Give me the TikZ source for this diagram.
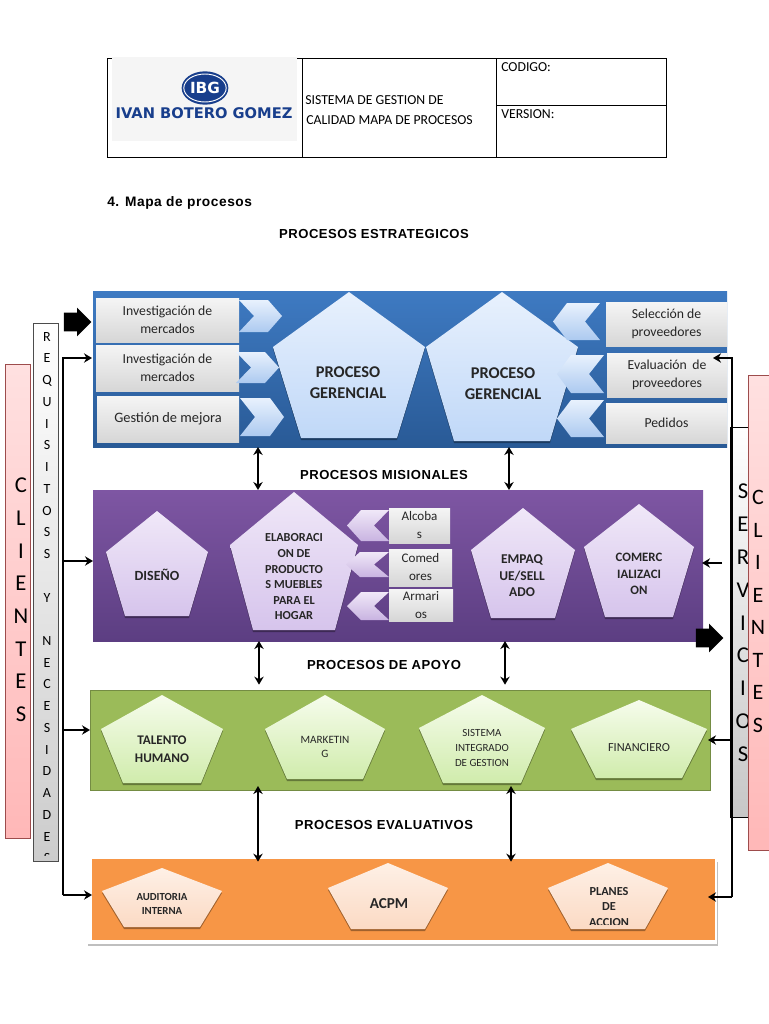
\documentclass[tikz,border=0pt]{standalone}
\usepackage{fontspec}
\setmainfont{Carlito}
\newfontfamily\headfont[LetterSpace=4]{Liberation Sans}
\newfontfamily\logofont{DejaVu Sans}
\usetikzlibrary{arrows.meta,positioning,shapes.geometric,shapes.arrows,fit,shadows}
\definecolor{bandBlueTop}{RGB}{62, 122, 194}
\definecolor{bandBlueLow}{RGB}{41, 90, 150}
\definecolor{bandPurpleTop}{RGB}{126, 86, 163}
\definecolor{bandPurpleLow}{RGB}{92, 62, 130}
\definecolor{bandGreen}{RGB}{155, 187, 89}
\definecolor{bandOrange}{RGB}{247, 150, 70}
\definecolor{logoBlue}{RGB}{24, 62, 140}
\definecolor{pentBlueTop}{RGB}{232, 241, 253}
\definecolor{pentBlueLow}{RGB}{192, 216, 248}
\definecolor{pentPurpleTop}{RGB}{240, 232, 248}
\definecolor{pentPurpleLow}{RGB}{214, 196, 236}
\definecolor{pentGreenTop}{RGB}{246, 252, 236}
\definecolor{pentGreenLow}{RGB}{208, 236, 172}
\definecolor{pentOrangeTop}{RGB}{254, 240, 230}
\definecolor{pentOrangeLow}{RGB}{251, 218, 196}
% pentagon: centre x, top y, half width, shoulder y, bottom y, bottom half width
\newcommand{\pentshape}[7]{
  \fill[black,opacity=.35] (#2,#3+2) -- (#2+#4,#5+2) -- (#2+#7,#6+2) -- (#2-#7,#6+2) -- (#2-#4,#5+2) -- cycle;
  \path[#1] (#2,#3) -- (#2+#4,#5) -- (#2+#7,#6) -- (#2-#7,#6) -- (#2-#4,#5) -- cycle;
}
% chevron: left x, right x, top y, bottom y
\newcommand{\chevright}[5]{
  \path[#1] (#2,#4) -- (#3-14,#4) -- (#3,#4/2+#5/2) -- (#3-14,#5) -- (#2,#5) -- (#2+15,#4/2+#5/2) -- cycle;
}
\newcommand{\chevleft}[5]{
  \path[#1] (#3,#4) -- (#2+14,#4) -- (#2,#4/2+#5/2) -- (#2+14,#5) -- (#3,#5) -- (#3-15,#4/2+#5/2) -- cycle;
}
\begin{document}
\begin{tikzpicture}[
  x=0.75pt,y=-0.75pt,
  band/.style={inner sep=0pt,outer sep=0pt},
  cell/.style={draw=black,line width=.7pt,inner sep=0pt},
  celltext/.style={anchor=west,font=\fontsize{10.3}{11}\selectfont,inner sep=0pt},
  head/.style={font=\headfont\bfseries\fontsize{9.8}{10}\selectfont,inner sep=0pt},
  gbox/.style={inner sep=0pt,top color=gray!8,bottom color=gray!32,
    general shadow={shift={(0pt,-1.6pt)},fill=black,opacity=.45}},
  gtext/.style={align=center,inner sep=0pt,font=\fontsize{10.3}{13.2}\selectfont,text=black!85},
  stext/.style={gtext,font=\fontsize{9.8}{13.5}\selectfont},
  pentblue/.style={top color=pentBlueTop,bottom color=pentBlueLow},
  pentpurple/.style={top color=pentPurpleTop,bottom color=pentPurpleLow},
  pentgreen/.style={top color=pentGreenTop,bottom color=pentGreenLow},
  pentorange/.style={top color=pentOrangeTop,bottom color=pentOrangeLow},
  chevblue/.style={top color=pentBlueTop,bottom color=pentBlueLow!85!bandBlueTop},
  chevpurple/.style={top color=pentPurpleTop,bottom color=pentPurpleLow!85!bandPurpleTop},
  ptext/.style={align=center,inner sep=0pt,text=black!85},
  link/.style={{Stealth[length=6pt,width=7pt]}-{Stealth[length=6pt,width=7pt]},line width=2pt},
  feed/.style={-{Stealth[length=6pt,width=7pt]},line width=2pt},
  blockarrow/.style={shape=single arrow,fill=black,inner xsep=0pt,inner ysep=6.75pt,
    single arrow head extend=3.75pt,minimum height=20.5pt},
  tower/.style={inner sep=0pt,line width=.6pt},
  letters/.style={align=center,inner sep=0pt,anchor=north}
]
  \useasboundingbox (0,0) rectangle (768,1024);
  \fill[white] (0,0) rectangle (768,1024);

  % header table
  \node[cell,fit={(107,58) (302,157)}] (logoCell) {};
  \node[cell,fit={(302,58) (496,157)}] (titleCell) {};
  \node[cell,fit={(496,58) (666,105)}] (codeCell) {};
  \node[cell,fit={(496,105) (666,157)}] (versionCell) {};
  \node[fill=black!4,inner sep=0pt,fit={(112,57) (297,141)}] (logoBack) {};
  \node[ellipse,fill=logoBlue,minimum width=35pt,minimum height=25pt,inner sep=0pt] (logoMark) at (205,88) {};
  \node[ellipse,draw=white,line width=.7pt,text=white,minimum width=31pt,minimum height=21pt,inner sep=0pt,
    font=\logofont\bfseries\fontsize{11.5}{12}\selectfont] (logoInner) at (logoMark) {IBG};
  \node[text=logoBlue,inner sep=0pt,font=\logofont\bfseries\fontsize{11}{12}\selectfont] (logoName) at (204,113) {IVAN BOTERO GOMEZ};
  \node[celltext] (titleA) at (305,100) {SISTEMA DE GESTION DE};
  \node[celltext] (titleB) at (306,120) {CALIDAD MAPA DE PROCESOS};
  \node[celltext] (codeText) at (501,67) {CODIGO:};
  \node[celltext] (versionText) at (501,114) {VERSION:};

  \node[head,anchor=west,font=\headfont\bfseries\fontsize{10.3}{11}\selectfont] (section) at (107,203) {4. Mapa de procesos};
  \node[head] (hdStrat) at (374,234) {PROCESOS ESTRATEGICOS};
  \node[head] (hdMision) at (384,475) {PROCESOS MISIONALES};
  \node[head] (hdApoyo) at (384,665) {PROCESOS DE APOYO};
  \node[head] (hdEval) at (384,825) {PROCESOS EVALUATIVOS};

  % process bands
  \node[band,top color=bandBlueTop,bottom color=bandBlueLow,fit={(93,291) (727,447)}] (strat) {};
  \node[band,top color=bandPurpleTop,bottom color=bandPurpleLow,fit={(93,490) (703,641)}] (mision) {};
  \node[band,fill=bandGreen,draw=bandGreen!75!black,fit={(90,690) (710,790)}] (apoyo) {};
  \fill[black!25] (88,862) rectangle (718,946);
  \fill[white] (88,858) rectangle (717,944);
  \node[band,fill=bandOrange,fit={(92,859) (715,940)}] (evalua) {};

  % estrategicos
  \node[gbox,fit={(96,298) (239,342)},label={[gtext]center:Investigación de\\mercados}] (invA) {};
  \node[gbox,fit={(96,345) (239,391)},label={[gtext]center:Investigación de\\mercados}] (invB) {};
  \node[gbox,fit={(97,396) (239,442)},label={[gtext,font=\fontsize{10.8}{13}\selectfont]center:Gestión de mejora}] (mejora) {};
  \node[gbox,fit={(606,302) (727,346)},label={[gtext]center:Selección de\\proveedores}] (selec) {};
  \node[gbox,fit={(607,353) (727,397)},label={[gtext]center:Evaluación\, de\\proveedores}] (evalp) {};
  \node[gbox,fit={(606,403) (727,443)},label={[gtext]center:Pedidos}] (pedidos) {};
  \pentshape{pentblue}{349}{292}{76}{347}{438}{48}
  \pentshape{pentblue}{502}{292}{76}{347}{441}{48}
  \chevright{chevblue}{239}{282}{300}{332}
  \chevright{chevblue}{236}{279}{352}{383}
  \chevright{chevblue}{240}{284}{398}{436}
  \chevleft{chevblue}{553}{600}{303}{340}
  \chevleft{chevblue}{557}{604}{355}{393}
  \chevleft{chevblue}{557}{604}{400}{437}
  \node[ptext,font=\bfseries\fontsize{12.3}{15.8}\selectfont] (gerA) at (348,383) {PROCESO\\GERENCIAL};
  \node[ptext,font=\bfseries\fontsize{12.3}{15.8}\selectfont] (gerB) at (503,384) {PROCESO\\GERENCIAL};

  % misionales
  \pentshape{pentpurple}{157}{511}{51}{552}{616}{32}
  \pentshape{pentpurple}{294}{492}{64}{545}{630}{41}
  \pentshape{pentpurple}{523}{508}{52}{550}{618}{32}
  \pentshape{pentpurple}{639}{504}{55}{547}{617}{34}
  \chevleft{chevpurple}{347}{389}{510}{541}
  \chevleft{chevpurple}{346}{389}{552}{577}
  \chevleft{chevpurple}{347}{389}{592}{620}
  \node[gbox,fit={(389,508) (450,543)},label={[stext]center:Alcoba\\s}] (alcobas) {};
  \node[gbox,fit={(389,549) (452,586)},label={[stext]center:Comed\\ores}] (comedores) {};
  \node[gbox,fit={(389,589) (453,621)},label={[stext]center:Armari\\os}] (armarios) {};
  \node[ptext,font=\bfseries\fontsize{10.5}{12}\selectfont] (diseno) at (157,575) {DISEÑO};
  \node[ptext,font=\bfseries\fontsize{9.2}{11.7}\selectfont] (elabora) at (294,577) {ELABORACI\\ON DE\\PRODUCTO\\S MUEBLES\\PARA EL\\HOGAR};
  \node[ptext,font=\bfseries\fontsize{10.1}{12.4}\selectfont] (empaque) at (522,576) {EMPAQ\\UE/SELL\\ADO};
  \node[ptext,font=\bfseries\fontsize{9.6}{12.4}\selectfont] (comercial) at (639,574) {COMERC\\IALIZACI\\ON};

  % apoyo
  \pentshape{pentgreen}{162}{695}{61}{729}{783}{39}
  \pentshape{pentgreen}{325}{695}{60}{729}{779}{38}
  \pentshape{pentgreen}{482}{695}{63}{728}{783}{39}
  \pentshape{pentgreen}{639}{700}{68}{729}{778}{43}
  \node[ptext,font=\bfseries\fontsize{9.9}{13.5}\selectfont] (talento) at (162,749) {TALENTO\\HUMANO};
  \node[ptext,font=\fontsize{8.4}{10}\selectfont] (marketing) at (325,747) {MARKETIN\\G};
  \node[ptext,font=\fontsize{8.2}{10.9}\selectfont] (sistema) at (482,748) {SISTEMA\\INTEGRADO\\DE GESTION};
  \node[ptext,font=\fontsize{9.2}{10}\selectfont] (financiero) at (639,748) {FINANCIERO};

  % evaluativos
  \pentshape{pentorange}{162}{868}{60}{891}{927}{38}
  \pentshape{pentorange}{388}{863}{60}{888}{929}{37}
  \pentshape{pentorange}{608}{863}{60}{888}{929}{37}
  \node[ptext,font=\bfseries\fontsize{8.1}{11}\selectfont] (auditoria) at (162,904) {AUDITORIA\\INTERNA};
  \node[ptext,font=\bfseries\fontsize{11.4}{12}\selectfont] (acpm) at (389,904) {ACPM};
  \begin{scope}
    \clip (560,860) rectangle (660,924);
    \node[ptext,font=\bfseries\fontsize{9.2}{11.6}\selectfont,anchor=north] (planes) at (609,887) {PLANES\\DE\\ACCION};
  \end{scope}

  % side columns
  \node[tower,draw=red!45!black!70,top color=red!12,bottom color=red!28,
    general shadow={shift={(0pt,-1.5pt)},fill=black,opacity=.4},fit={(5,364) (30,838)}] (clientesL) {};
  \node[letters,font=\fontsize{17}{24.5}\selectfont] (clientesTxt) at (21,478) {C\\L\\I\\E\\N\\T\\E\\S};
  \node[tower,draw=black!70,top color=white,bottom color=black!20,
    general shadow={shift={(0pt,-1.5pt)},fill=black,opacity=.4},fit={(33,323) (58,861)}] (requisitos) {};
  \begin{scope}
    \clip (34,324) rectangle (57,855);
    \node[letters,font=\fontsize{10.5}{16.3}\selectfont] (requisitosTxt) at (47,332) {R\\E\\Q\\U\\I\\S\\I\\T\\O\\S\\S\\~\\Y\\~\\N\\E\\C\\E\\S\\I\\D\\A\\D\\E\\S};
  \end{scope}
  \node[tower,draw=black,top color=white,bottom color=black!22,
    general shadow={shift={(0pt,-1.5pt)},fill=black,opacity=.4},fit={(730,427) (768,817)}] (servicios) {};
  \node[letters,font=\fontsize{17}{24.6}\selectfont] (serviciosTxt) at (743,484) {S\\E\\R\\V\\I\\C\\I\\O\\S};

  % connectors between bands
  \draw[link] (strat.south -| 258,0) -- (mision.north -| 258,0);
  \draw[link] (strat.south -| 509,0) -- (mision.north -| 509,0);
  \draw[link] (mision.south -| 259,0) -- ([yshift=4pt]apoyo.north -| 259,0);
  \draw[link] (mision.south -| 505,0) -- ([yshift=4pt]apoyo.north -| 505,0);
  \draw[link] ([yshift=3pt]apoyo.south -| 258,0) -- ([yshift=-2pt]evalua.north -| 258,0);
  \draw[link] ([yshift=3pt]apoyo.south -| 511,0) -- ([yshift=-2pt]evalua.north -| 511,0);

  % left feed
  \coordinate (feedLtop) at (63,358);
  \coordinate (feedLlow) at (63,895);
  \draw[feed] (feedLlow) -- (feedLtop) -- (92,358);
  \draw[feed] (feedLlow) -- (evalua.west |- feedLlow);
  \draw[feed] (feedLtop |- 0,561) -- (mision.west |- 0,561);
  \draw[feed] (feedLtop |- 0,730) -- (apoyo.west |- 0,730);

  % right feed
  \coordinate (feedRtop) at (732,358);
  \coordinate (feedRlow) at (732,897);
  \draw[feed] (feedRlow) -- (feedRtop) -- (713,358);
  \draw[feed] (feedRlow) -- (708,897);
  \coordinate (feedC) at (722,563);
  \draw[feed] (feedC) -- (702,563);
  \draw[feed] (servicios.west |- 0,740) -- (708,740);

  % block arrows
  \node[blockarrow] (inArrow) at (73,322) {};
  \node[blockarrow] (outArrow) at (705,638) {};

  % right clientes on top
  \node[tower,draw=red!45!black!70,top color=red!12,bottom color=red!28,
    general shadow={shift={(0pt,-1.5pt)},fill=black,opacity=.4},fit={(748,375) (770,850)}] (clientesR) {};
  \node[letters,font=\fontsize{16.5}{24.4}\selectfont] (clientesRTxt) at (758,490) {C\\L\\I\\E\\N\\T\\E\\S};
\end{tikzpicture}
\end{document}
